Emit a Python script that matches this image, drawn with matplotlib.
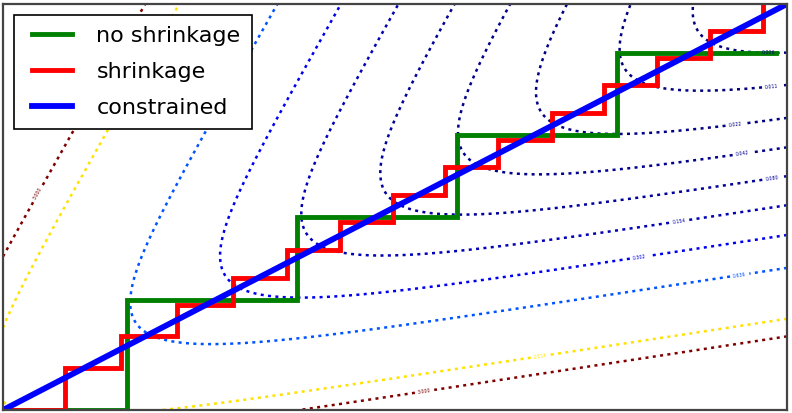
import numpy as np
import matplotlib
matplotlib.use('Agg')
import matplotlib.pyplot as plt
from matplotlib.legend_handler import HandlerLine2D

# contour levels of the loss surface (labels)
levels = [0.006, 0.011, 0.022, 0.042, 0.080, 0.154, 0.302, 0.636, 2.014, 3.000]
# surface: exp(K - a*(x+y)) * cosh(b*(x-y)), fitted by eye to the contours
K, a, b = 0.76, 3.25, 5.95

# step estimators: bin edges and output levels
green_edges = [0.0, 0.158, 0.375, 0.579, 0.783, 0.986]
green_levels = [0.0, 0.271, 0.476, 0.677, 0.879]
red_edges = [0.0, 0.079, 0.151, 0.222, 0.294, 0.362, 0.430, 0.498, 0.564,
             0.632, 0.700, 0.766, 0.834, 0.902, 0.970, 1.0]
red_levels = [0.0, 0.103, 0.182, 0.259, 0.326, 0.394, 0.464, 0.530, 0.599,
              0.665, 0.731, 0.800, 0.866, 0.933, 1.03]
constrained_x = [0.0, 1.0]
constrained_y = [0.0, 1.0]

# label spots (data coords) for clabel
label_pos = [(0.976, 0.879), (0.981, 0.788), (0.934, 0.702), (0.943, 0.631),
             (0.981, 0.569), (0.862, 0.463), (0.812, 0.374), (0.940, 0.328),
             (0.686, 0.126), (0.538, 0.042), (0.042, 0.536)]

fig = plt.figure(figsize=(7.92, 4.13), dpi=100)
ax = fig.add_axes([3/792, 3/413, 784/792, 406/413])

xx, yy = np.meshgrid(np.linspace(0, 1, 500), np.linspace(0, 1, 500))
zz = np.exp(K - a*(xx + yy)) * np.cosh(b*(xx - yy))
cs = ax.contour(xx, yy, zz, levels=levels, cmap='jet', linewidths=1.8)
cs.set_linestyle((0, (1.2, 1.75)))
ax.clabel(cs, fmt='%.3f', fontsize=3.4, inline=True, inline_spacing=3,
          manual=label_pos)

ax.step(green_edges, green_levels + [green_levels[-1]], where='post',
        color='green', lw=3.5, solid_joinstyle='miter', label='no shrinkage')
ax.step(red_edges, red_levels + [red_levels[-1]], where='post',
        color='red', lw=3.5, solid_joinstyle='miter', label='shrinkage')
ax.plot(constrained_x, constrained_y, color='blue', lw=4.2, label='constrained')

ax.set_xlim(0, 1)
ax.set_ylim(0, 1)
ax.set_xticks([])
ax.set_yticks([])
for sp in ax.spines.values():
    sp.set_linewidth(1.6)
    sp.set_color('#444444')

leg = ax.legend(loc='upper left', fontsize=16, fancybox=False, framealpha=1,
                edgecolor='black', handlelength=2.1, handletextpad=1.1,
                labelspacing=0.72, borderpad=0.5, borderaxespad=0.5,
                handler_map={plt.Line2D: HandlerLine2D(xpad=0.3)})
leg.get_frame().set_linewidth(1.2)

fig.savefig('out.png', dpi=100)
